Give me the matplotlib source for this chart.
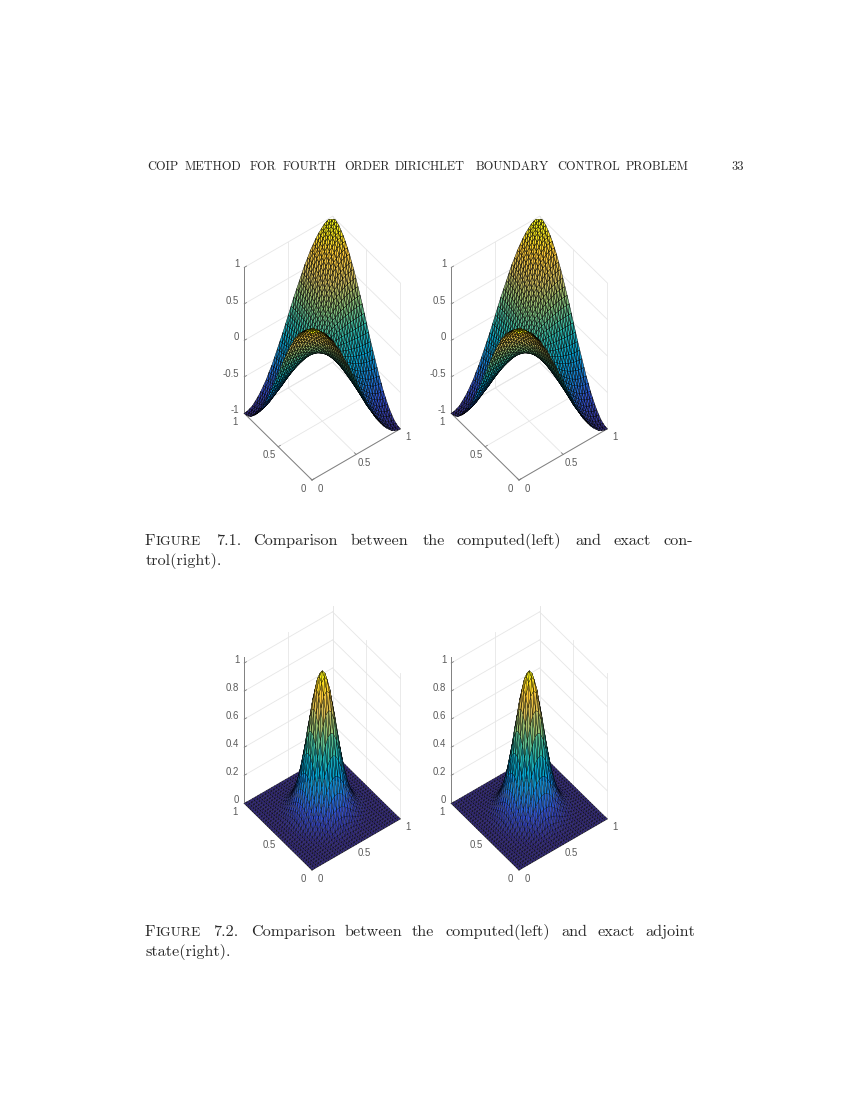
import numpy as np
import matplotlib
matplotlib.use("Agg")
import matplotlib.pyplot as plt
from matplotlib.colors import LinearSegmentedColormap
from matplotlib.tri import Triangulation
from mpl_toolkits.mplot3d import proj3d

# Surface profiles (both directions, 33 nodes)
half_control = [1.00, 0.995, 0.98, 0.96, 0.92, 0.88, 0.83, 0.77, 0.71, 0.63, 0.56, 0.47, 0.38, 0.29, 0.20, 0.10, 0.0]
profile_control = half_control + [-v for v in half_control[-2::-1]]
half_adjoint = [0.0, 0.001, 0.003, 0.006, 0.013, 0.026, 0.048, 0.086, 0.144, 0.227, 0.336, 0.469, 0.616, 0.762, 0.886, 0.970, 1.0]
profile_adjoint = half_adjoint + half_adjoint[-2::-1]
xy_ticks = [0, 0.5, 1]
xy_labels = ["0", "0.5", "1"]
z_ticks_control = [-1, -0.5, 0, 0.5, 1]
z_labels_control = ["-1", "-0.5", "0", "0.5", "1"]
z_ticks_adjoint = [0, 0.2, 0.4, 0.6, 0.8, 1]
z_labels_adjoint = ["0", "0.2", "0.4", "0.6", "0.8", "1"]
header_words = ["COIP", "METHOD", "FOR", "FOURTH", "ORDER", "DIRICHLET", "BOUNDARY", "CONTROL", "PROBLEM"]
page_number = "33"
parula = LinearSegmentedColormap.from_list("parula", [
    "#352a87", "#2f4fd0", "#1481d6", "#06a4ca", "#2eb7a4",
    "#87bf77", "#d1bb59", "#fec832", "#f9fb0e"])

FIG_W, FIG_H = 850, 1100
fig = plt.figure(figsize=(8.5, 11), dpi=100)
fig.patch.set_facecolor("white")
TICK = "#5a5a5a"; GRID = "#e6e6e6"; AXIS = "#808080"


def panel(front_px, span_px, profile, zlim, zticks, zlabels, zmax_cmap, lw):
    ax = fig.add_axes([0, 0, 1000 / FIG_W, 1000 / FIG_H], projection="3d", proj_type="ortho")
    ax.set_axis_off()
    ax.patch.set_alpha(0)
    ax.view_init(elev=49, azim=-127.5)
    ax.set_box_aspect((1, 1, 2))
    ax.set_xlim(0, 1); ax.set_ylim(0, 1); ax.set_zlim(*zlim)
    ax.computed_zorder = False
    z0, z1 = zlim
    ax.apply_aspect()
    M = ax.get_proj()

    def to_px(x, y, z):
        px, py, _ = proj3d.proj_transform(x, y, z, M)
        return ax.transData.transform((px, py))

    pf = to_px(0, 0, z0)
    pl = to_px(0, 1, z0)
    pr = to_px(1, 0, z0)
    s = span_px / (pr[0] - pl[0])
    size = 1000 * s
    left = front_px[0] - s * pf[0]
    bottom = (FIG_H - front_px[1]) - s * pf[1]
    ax.set_position([left / FIG_W, bottom / FIG_H, size / FIG_W, size / FIG_H])
    ax.apply_aspect()

    def line(xs, ys, zs, c=GRID, lw=0.6, zo=1):
        ax.plot(xs, ys, zs, color=c, lw=lw, zorder=zo, clip_on=False)

    def label(x, y, z, s, dx, dy, ha="center"):
        p = to_px(x, y, z)
        fig.text((p[0] + dx) / FIG_W, (p[1] + dy) / FIG_H, s, ha=ha, va="center",
                 fontsize=6.9, color=TICK, family="Liberation Sans")

    for t in xy_ticks:
        line([t, t], [0, 1], [z0, z0])
        line([0, 1], [t, t], [z0, z0])
        line([t, t], [1, 1], [z0, z1])
        line([1, 1], [t, t], [z0, z1])
    for zt in zticks:
        line([0, 1], [1, 1], [zt, zt])
        line([1, 1], [0, 1], [zt, zt])
    line([0, 1], [0, 0], [z0, z0], AXIS, 0.7, 1.5)
    line([0, 0], [0, 1], [z0, z0], AXIS, 0.7, 1.5)
    line([0, 0], [1, 1], [z0, z1], AXIS, 0.7, 1.5)
    for t, lab in zip(xy_ticks, xy_labels):
        line([t, t], [0, 0.025], [z0, z0], AXIS, 0.6, 1.5)
        line([0, 0.025], [t, t], [z0, z0], AXIS, 0.6, 1.5)
        label(t, 0, z0, lab, 8, -8.5)
        label(0, t, z0, lab, -9, -8.5)
    for zt, lab in zip(zticks, zlabels):
        line([0, 0.025], [1, 1], [zt, zt], AXIS, 0.6, 1.5)
        label(0, 1, zt, lab, -5, 3, ha="right")
    n = len(profile)
    grid = np.arange(n) / (n - 1)
    X, Y = np.meshgrid(grid, grid)
    Z = np.outer(profile, profile)
    idx = np.arange(n * n).reshape(n, n)
    a, b, c, d = idx[:-1, :-1].ravel(), idx[:-1, 1:].ravel(), idx[1:, :-1].ravel(), idx[1:, 1:].ravel()
    triangles = np.vstack([np.column_stack([a, b, d]), np.column_stack([a, d, c])])
    tri = Triangulation(X.ravel(), Y.ravel(), triangles)
    ax.plot_trisurf(tri, Z.ravel(), cmap=parula, vmin=z0, vmax=zmax_cmap,
                    edgecolor="black", linewidth=lw, shade=False, antialiased=True,
                    zorder=3)
    return ax


FRONT_TOP = 480
FRONT_BOT = 870
SPAN = 156
for dx in (0, 207):
    panel((312 + dx, FRONT_TOP), SPAN, profile_control, (-1, 1), z_ticks_control, z_labels_control, 1, 0.33)
    panel((312 + dx, FRONT_BOT), SPAN, profile_adjoint, (0, 1.04), z_ticks_adjoint, z_labels_adjoint, 1, 0.22)

TXT = "#2a2a2a"


def page_text(x, y, s, size=11.7, ha="left"):
    fig.text(x / FIG_W, 1 - y / FIG_H, s, fontsize=size, family="cmr10", color=TXT,
             ha=ha, va="baseline")


for x, word in zip([147, 185, 250, 283, 344, 395, 476, 557, 626], header_words):
    page_text(x, 170, word, size=8.85)
page_text(731, 170, page_number, size=9)

line1 = [(145, "F"), (156, "IGURE"), (216, "7.1."), (253, "Comparison"), (351, "between"),
         (423, "the"), (457, "computed(left)"), (575, "and"), (614, "exact"), (664, "con-")]
for x, s in line1:
    page_text(x, 545, s, 9.8 if s == "IGURE" else 11.7)
page_text(146, 565, "trol(right).")
line2 = [(145, "F"), (156, "IGURE"), (213, "7.2."), (251, "Comparison"), (345, "between"),
         (412, "the"), (446, "computed(left)"), (561, "and"), (597, "exact"), (645, "adjoint")]
for x, s in line2:
    page_text(x, 936, s, 9.8 if s == "IGURE" else 11.7)
page_text(146, 956, "state(right).")

fig.savefig("out.png", dpi=100)
